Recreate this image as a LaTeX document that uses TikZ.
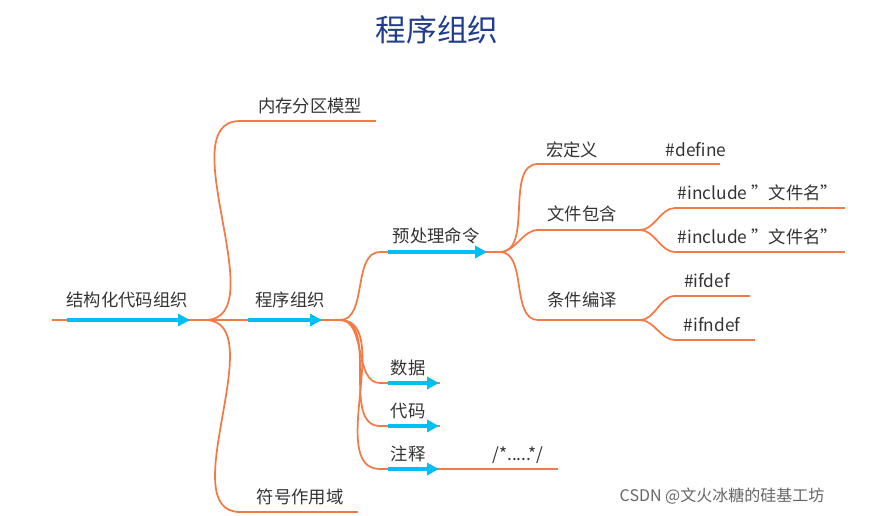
\documentclass[tikz,border=0pt]{standalone}
\usepackage{fontspec}
\setmainfont{Noto Sans CJK SC}
\usetikzlibrary{arrows.meta}
\definecolor{br}{HTML}{F47A45}
\definecolor{ar}{HTML}{00BFF5}
\definecolor{tt}{HTML}{1F3D8C}
\begin{document}
\begin{tikzpicture}[x=0.75pt,y=-0.75pt,
  br/.style={draw=br,line width=1.3pt},
  ar/.style={draw=ar,line width=2.6pt,-{Triangle[length=9pt,width=9pt]}},
  lb/.style={font=\fontsize{13pt}{15pt}\selectfont,text=black!80,inner sep=0pt},
  cv/.style={br,out=0,in=180,looseness=0.9}]
\useasboundingbox (0,0) rectangle (873,515);
\node[font=\fontsize{23pt}{26pt}\selectfont,text=tt] (title) at (437,30) {程序组织};
% root
\coordinate (r0) at (52,320); \coordinate (h1) at (205,320);
\draw[br] (r0) -- (h1);
\node[lb] (root) at (127,300) {结构化代码组织};
\coordinate (ra) at (67,320); \coordinate (rb) at (190,320);
\draw[ar] (ra) -- (rb);
% level 1
\coordinate (m0) at (240,121); \coordinate (m1) at (376,121);
\draw[cv] (h1) to (m0); \draw[br] (m0) -- (m1);
\node[lb] (mem) at (310,106) {内存分区模型};
\coordinate (h2) at (340,320);
\draw[br] (h1) -- (h2);
\node[lb] (prog) at (290,300) {程序组织};
\coordinate (pa) at (248,320); \coordinate (pb) at (322,320);
\draw[ar] (pa) -- (pb);
\coordinate (s0) at (240,512); \coordinate (s1) at (358,512);
\draw[cv] (h1) to (s0); \draw[br] (s0) -- (s1);
\node[lb] (scope) at (300,497) {符号作用域};
% level 2
\coordinate (p0) at (380,252); \coordinate (h3) at (500,252);
\draw[cv] (h2) to (p0); \draw[br] (p0) -- (h3);
\node[lb] (pre) at (436,236) {预处理命令};
\coordinate (pra) at (388,252); \coordinate (prb) at (487,252);
\draw[ar] (pra) -- (prb);
\foreach \y/\n/\t/\e in {383/d/数据/440,426/c/代码/440,469/z/注释/558}{
  \coordinate (\n0) at (380,\y); \coordinate (\n1) at (\e,\y);
  \draw[cv] (h2) to (\n0); \draw[br] (\n0) -- (\n1);
  \node[lb] (\n l) at (408,\y-15) {\t};
  \coordinate (\n a) at (388,\y); \coordinate (\n b) at (439,\y);
  \draw[ar] (\n a) -- (\n b);
}
\node[lb] (cmt) at (518,455) {/*.....*/};
% level 3
\coordinate (q0) at (538,164); \coordinate (q1) at (720,164);
\draw[cv] (h3) to (q0); \draw[br] (q0) -- (q1);
\node[lb] (mac) at (572,150) {宏定义};
\node[lb] (def) at (696,150) {\#define};
\coordinate (f0) at (538,230); \coordinate (h4) at (640,230);
\draw[cv] (h3) to (f0); \draw[br] (f0) -- (h4);
\node[lb] (inc) at (582,214) {文件包含};
\coordinate (c0) at (538,320); \coordinate (h5) at (640,320);
\draw[cv] (h3) to (c0); \draw[br] (c0) -- (h5);
\node[lb] (cond) at (582,300) {条件编译};
% level 4
\coordinate (i0) at (675,208); \coordinate (i1) at (845,208);
\draw[cv] (h4) to (i0); \draw[br] (i0) -- (i1);
\node[lb] (inc1) at (758,193) {\#include "文件名"};
\coordinate (j0) at (675,252); \coordinate (j1) at (845,252);
\draw[cv] (h4) to (j0); \draw[br] (j0) -- (j1);
\node[lb] (inc2) at (758,237) {\#include "文件名"};
\coordinate (k0) at (675,296); \coordinate (k1) at (750,296);
\draw[cv] (h5) to (k0); \draw[br] (k0) -- (k1);
\node[lb] (ifd) at (707,281) {\#ifdef};
\coordinate (l0) at (675,340); \coordinate (l1) at (755,340);
\draw[cv] (h5) to (l0); \draw[br] (l0) -- (l1);
\node[lb] (ifn) at (712,325) {\#ifndef};
\node[font=\fontsize{12pt}{14pt}\selectfont,text=black!60,inner sep=0pt] (wm) at (722,496) {CSDN @文火冰糖的硅基工坊};
\end{tikzpicture}
\end{document}
